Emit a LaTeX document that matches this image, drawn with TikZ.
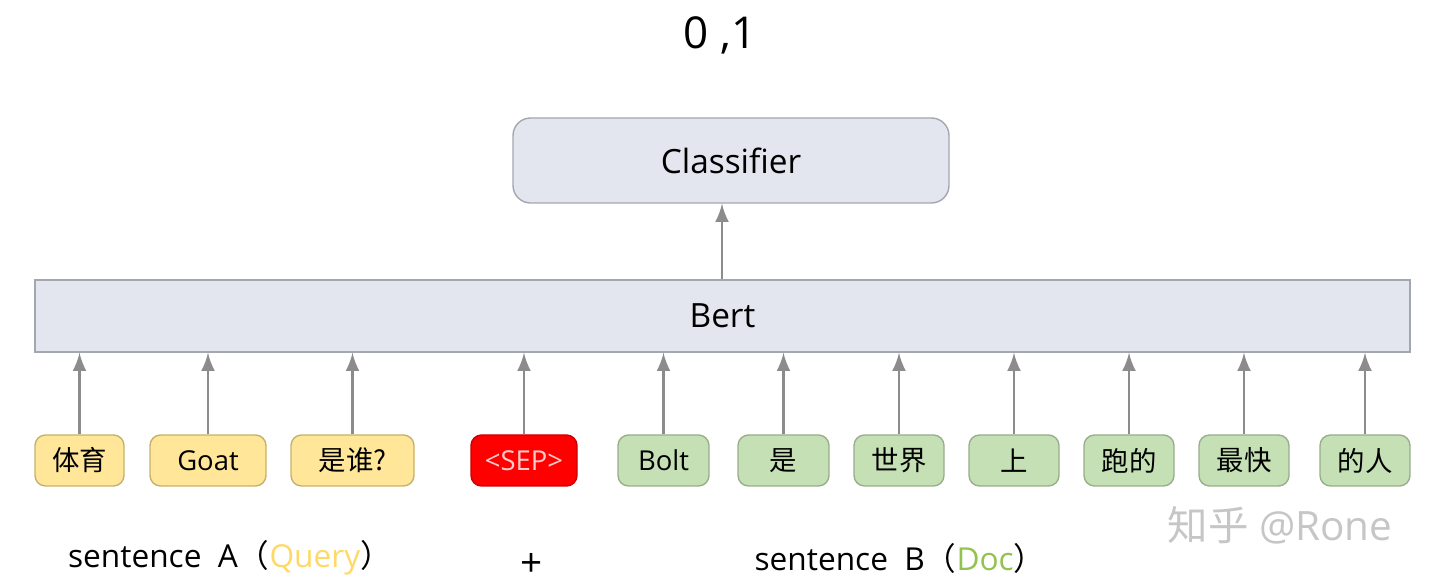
\documentclass[tikz,border=0pt]{standalone}
\usepackage{fontspec}
\setmainfont{Open Sans}
\newfontfamily\cjk{Noto Sans CJK SC}
\usetikzlibrary{positioning}
\definecolor{qfill}{HTML}{FFE699}
\definecolor{qline}{HTML}{C9B06A}
\definecolor{dfill}{HTML}{C5E0B4}
\definecolor{dline}{HTML}{98AE8C}
\definecolor{gfill}{HTML}{E3E6EE}
\definecolor{gline}{HTML}{A3A7B0}
\definecolor{qtext}{HTML}{FFD966}
\definecolor{dtext}{HTML}{92C34E}
\tikzset{
    % Define style for boxes
    grau/.style={
           rectangle,
           rounded corners=5pt,
           draw=gline, fill=gfill,
           font=\fontsize{9.5}{12}\selectfont},
    tok/.style={
           rectangle,
           rounded corners=3pt,
           minimum height=0.51cm,
           font=\fontsize{7.8}{10}\selectfont},
    query/.style={tok, draw=qline, fill=qfill},
    doc/.style={tok, draw=dline, fill=dfill},
    % Define arrow style
    pfeil/.style={
           -latex,
           draw=gray!90,
           thick}
}
\begin{document}
\begin{tikzpicture}
\useasboundingbox (0,0) rectangle (14.4,-5.84);
\node[font=\fontsize{12.5}{15}\selectfont] (out) at (7.2,-0.35) {0 ,1};
\node[grau, minimum width=4.36cm, minimum height=0.85cm] (cls) at (7.31,-1.605) {Classifier};
\node[grau, rounded corners=0pt, minimum width=13.75cm, minimum height=0.72cm] (bert) at (7.225,-3.16) {Bert};

% Query tokens
\node[query, minimum width=0.89cm] (t1) at (0.795,-4.605) {\cjk 体育};
\node[query, minimum width=1.16cm] (t2) at (2.08,-4.605) {Goat};
\node[query, minimum width=1.23cm] (t3) at (3.525,-4.605) {\cjk 是谁?};
\node[tok, draw=red!80!black, fill=red, text=white!80!red, minimum width=1.06cm] (sep) at (5.24,-4.605) {<SEP>};
% Doc tokens
\node[doc, minimum width=0.91cm] (t4) at (6.635,-4.605) {Bolt};
\node[doc, minimum width=0.91cm] (t5) at (7.835,-4.605) {\cjk 是};
\node[doc, minimum width=0.90cm] (t6) at (8.99,-4.605) {\cjk 世界};
\node[doc, minimum width=0.90cm] (t7) at (10.14,-4.605) {\cjk 上};
\node[doc, minimum width=0.90cm] (t8) at (11.29,-4.605) {\cjk 跑的};
\node[doc, minimum width=0.90cm] (t9) at (12.44,-4.605) {\cjk 最快};
\node[doc, minimum width=0.90cm] (t10) at (13.65,-4.605) {\cjk 的人};

% Arrows into Bert
\foreach \t in {t1,t2,t3,sep,t4,t5,t6,t7,t8,t9,t10}
    \draw[pfeil] (\t.north) -- (\t.north |- bert.south);
\coordinate (up) at (7.22,0 |- bert.north);
\draw[pfeil] (up) -- (up |- cls.south);

% Captions
\node[font=\fontsize{9}{12}\selectfont] (capA) at (2.3,-5.58) {sentence\ \ A{\cjk （}\textcolor{qtext}{Query}{\cjk ）}};
\node[font=\fontsize{11}{14}\selectfont] (plus) at (5.32,-5.65) {+};
\node[font=\fontsize{9}{12}\selectfont] (capB) at (9.0,-5.58) {sentence\ \ B{\cjk （}\textcolor{dtext}{Doc}{\cjk ）}};
\node[font=\fontsize{11.5}{14}\selectfont, text=gray!45] (mark) at (12.8,-5.25) {{\cjk 知乎} @Rone};
\end{tikzpicture}
\end{document}
